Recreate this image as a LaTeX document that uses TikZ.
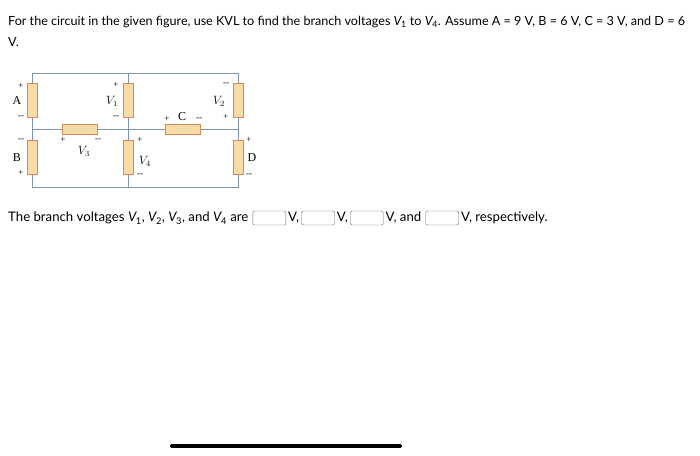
\documentclass[tikz,border=0pt]{standalone}
\usepackage{fontspec}
\setmainfont{Lato}
\newfontfamily\serifm{Liberation Serif}
\definecolor{wire}{HTML}{7D93AE}
\definecolor{rfill}{HTML}{F8DBA6}
\definecolor{rdraw}{HTML}{D98856}
\newcommand{\Vs}[1]{\textit{V}\kern-1pt\textsubscript{#1}}
\begin{document}
\begin{tikzpicture}[x=1pt,y=-1pt,
  vres/.style={draw=rdraw,fill=rfill,line width=1pt,minimum width=10pt,minimum height=34pt,inner sep=0},
  hres/.style={draw=rdraw,fill=rfill,line width=1pt,minimum width=35pt,minimum height=10pt,inner sep=0},
  wr/.style={draw=wire,line width=0.9pt},
  lbl/.style={font=\serifm\fontsize{12}{12}\selectfont,inner sep=0},
  pm/.style={font=\serifm\fontsize{9}{9}\selectfont,inner sep=0},
  txt/.style={font=\fontsize{12.6}{14}\selectfont,anchor=west,inner sep=0},
  atxt/.style={font=\fontsize{13.2}{14}\selectfont,anchor=west,inner sep=0},
  box/.style={draw=black!60,rounded corners=2pt,minimum width=33pt,minimum height=14pt,inner sep=0,anchor=west}]
\useasboundingbox (0,0) rectangle (700,455);
\node[txt] (t1) at (8,22) {For the circuit in the given figure, use KVL to find the branch voltages \Vs{1} to \Vs{4}. Assume A = 9 V, B = 6 V, C = 3 V, and D = 6};
\node[txt] (t2) at (8,42) {V.};
\coordinate (tl) at (32,73); \coordinate (tm) at (128,73); \coordinate (tr) at (238,73);
\coordinate (ml) at (32,129); \coordinate (mm) at (128,129); \coordinate (mr) at (238,129);
\coordinate (bl) at (32,187); \coordinate (bm) at (128,187); \coordinate (br) at (238,187);
\draw[wr] (tl)--(tr)--(br)--(bl)--cycle;
\draw[wr] (tm)--(bm); \draw[wr] (ml)--(mr);
\node[vres] (A) at (32,100) {}; \node[vres] (B) at (32,157) {};
\node[vres] (R1) at (128,100) {}; \node[vres] (R4) at (128,157) {};
\node[vres] (R2) at (238,100) {}; \node[vres] (D) at (238,157) {};
\node[hres] (R3) at (80,129) {}; \node[hres] (C) at (183,129) {};
\node[lbl] (lA) at (17,101) {A}; \node[pm] at (21,86) {+}; \node[pm] at (21,117) {--};
\node[lbl] (lB) at (17,158) {B}; \node[pm] at (21,140) {--}; \node[pm] at (21,173) {+};
\node[lbl] (l1) at (112,101) {$V_1$}; \node[pm] at (116,85) {+}; \node[pm] at (116,117) {--};
\node[lbl] (l2) at (219,101) {$V_2$}; \node[pm] at (226,84) {--}; \node[pm] at (226,117) {+};
\node[lbl] (l3) at (84,151) {$V_3$}; \node[pm] at (63,140) {+}; \node[pm] at (98,140) {--};
\node[lbl] (l4) at (145,161) {$V_4$}; \node[pm] at (140,140) {+}; \node[pm] at (140,175) {--};
\node[lbl] (lC) at (182,117) {C}; \node[pm] at (167,119) {+}; \node[pm] at (199,119) {--};
\node[lbl] (lD) at (252,158) {D}; \node[pm] at (249,140) {+}; \node[pm] at (249,175) {--};
\node[atxt] (s1) at (8,218) {The branch voltages \Vs{1}, \Vs{2}, \Vs{3}, and \Vs{4} are};
\node[box] (b1) at ([xshift=4pt]s1.east) {}; \node[atxt] (s2) at ([xshift=2pt]b1.east) {V,};
\node[box] (b2) at ([xshift=2pt]s2.east) {}; \node[atxt] (s3) at ([xshift=2pt]b2.east) {V,};
\node[box] (b3) at ([xshift=2pt]s3.east) {}; \node[atxt] (s4) at ([xshift=2pt]b3.east) {V, and};
\node[box] (b4) at ([xshift=4pt]s4.east) {}; \node[atxt] (s5) at ([xshift=2pt]b4.east) {V, respectively.};
\coordinate (h1) at (172,446); \coordinate (h2) at (400,446);
\draw[line width=4pt,line cap=round] (h1)--(h2);
\end{tikzpicture}
\end{document}
